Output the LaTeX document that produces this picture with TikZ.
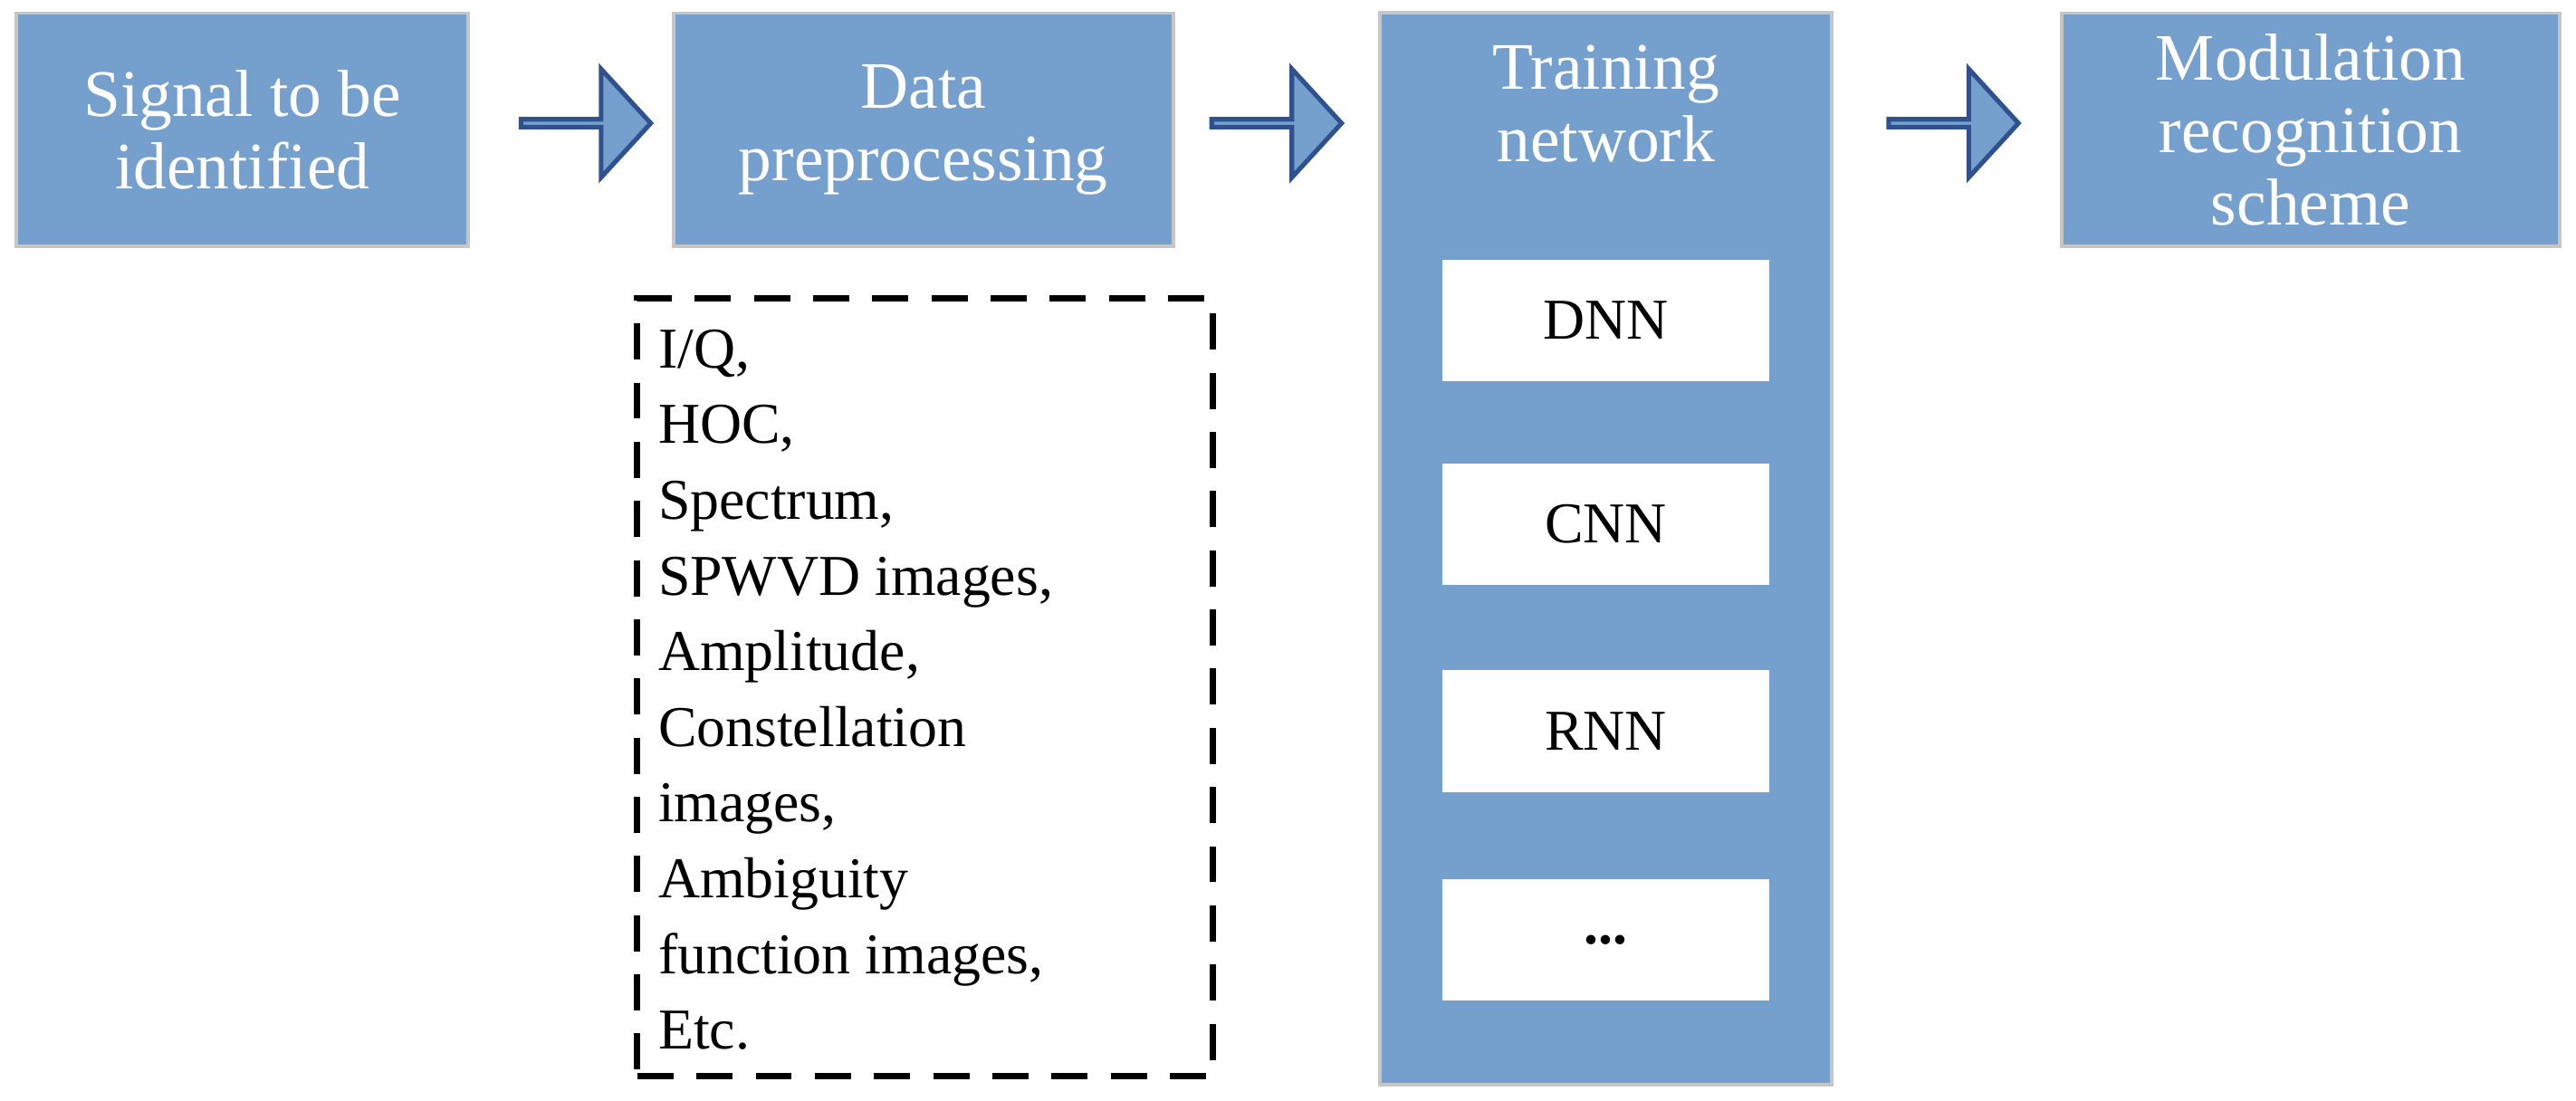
\documentclass[tikz,border=0pt]{standalone}
\usepackage{fontspec}
\setmainfont{Liberation Serif}
\usetikzlibrary{shapes.arrows}
\definecolor{boxblue}{HTML}{759FCC}
\definecolor{arrowedge}{HTML}{2F528F}
\tikzset{
  blk/.style={rectangle, draw=gray!45, line width=0.6pt, fill=boxblue, text=white,
    align=center, font=\fontsize{11.5}{12.5}\selectfont, inner sep=0pt},
  sub/.style={rectangle, fill=white, minimum width=1.99cm, minimum height=0.74cm,
    font=\fontsize{10}{12}\selectfont, inner sep=0pt},
  barrow/.style={single arrow, draw=arrowedge, line width=0.8pt, fill=boxblue,
    minimum width=0.66cm, minimum height=0.79cm, single arrow head extend=0.18cm,
    single arrow tip angle=95, inner sep=0pt}
}
\begin{document}
\begin{tikzpicture}[x=0.01cm,y=-0.01cm]
\useasboundingbox (0,0) rectangle (1568,670);
\node[blk, minimum width=2.75cm, minimum height=1.42cm] (sig) at (147.5,79) {Signal to be\\identified};
\node[blk, minimum width=3.04cm, minimum height=1.42cm] (pre) at (562,79) {Data\\preprocessing};
\node[blk, minimum width=2.75cm, minimum height=6.52cm] (net) at (977.5,334) {};
\node[white, align=center, font=\fontsize{11.5}{12.5}\selectfont] (nett) at (977.5,63) {Training\\network};
\node[blk, minimum width=3.03cm, minimum height=1.42cm] (mod) at (1406.5,79) {Modulation\\recognition\\scheme};
\node[sub] (dnn) at (977.5,195) {DNN};
\node[sub] (cnn) at (977.5,319) {CNN};
\node[sub] (rnn) at (977.5,445) {RNN};
\node[sub] (etc) at (977.5,572) {\textbf{...}};
\node[barrow] (a1) at (355.5,75) {};
\node[barrow] (a2) at (776,75) {};
\node[barrow] (a3) at (1188,75) {};
\node[draw, dash pattern=on 0.22cm off 0.14cm, line width=1.1pt,
  minimum width=3.5cm, minimum height=4.73cm, inner sep=0pt] (feat) at (563,418.5) {};
\node[anchor=north west, align=left, inner sep=0pt,
  font=\fontsize{10}{13.1}\selectfont] (list) at (400,200)
  {I/Q,\\HOC,\\Spectrum,\\SPWVD images,\\Amplitude,\\Constellation\\images,\\Ambiguity\\function images,\\Etc.};
\end{tikzpicture}
\end{document}
